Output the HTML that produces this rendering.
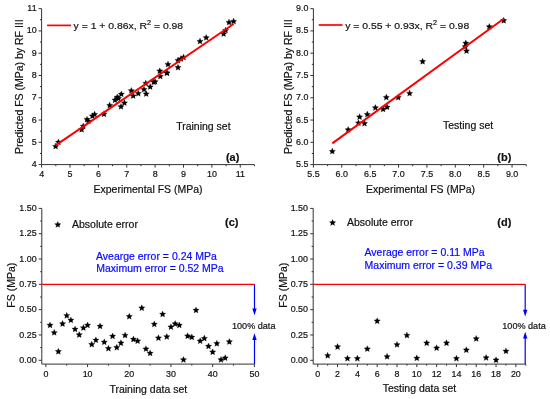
<!DOCTYPE html>
<html><head><meta charset="utf-8"><style>
html,body{margin:0;padding:0;background:#fff;}
body{width:550px;height:399px;overflow:hidden;}
svg{display:block;}
text{font-family:'Liberation Sans',Arial,sans-serif;stroke-width:0.2px;paint-order:stroke;}
</style></head><body>
<svg width="550" height="399" viewBox="0 0 550 399">
<rect width="550" height="399" fill="#fff"/>
<g stroke="#333" stroke-width="1" fill="none">
<line x1="41.6" y1="8.639999999999986" x2="41.6" y2="164.6" />
<line x1="41.6" y1="164.6" x2="254.45" y2="164.6" />
<line x1="41.60" y1="164.6" x2="41.60" y2="167.6" />
<line x1="69.98" y1="164.6" x2="69.98" y2="167.6" />
<line x1="98.36" y1="164.6" x2="98.36" y2="167.6" />
<line x1="126.74" y1="164.6" x2="126.74" y2="167.6" />
<line x1="155.12" y1="164.6" x2="155.12" y2="167.6" />
<line x1="183.50" y1="164.6" x2="183.50" y2="167.6" />
<line x1="211.88" y1="164.6" x2="211.88" y2="167.6" />
<line x1="240.26" y1="164.6" x2="240.26" y2="167.6" />
<line x1="55.79" y1="164.6" x2="55.79" y2="166.2" />
<line x1="84.17" y1="164.6" x2="84.17" y2="166.2" />
<line x1="112.55" y1="164.6" x2="112.55" y2="166.2" />
<line x1="140.93" y1="164.6" x2="140.93" y2="166.2" />
<line x1="169.31" y1="164.6" x2="169.31" y2="166.2" />
<line x1="197.69" y1="164.6" x2="197.69" y2="166.2" />
<line x1="226.07" y1="164.6" x2="226.07" y2="166.2" />
<line x1="254.45" y1="164.6" x2="254.45" y2="166.2" />
<line x1="38.6" y1="164.60" x2="41.6" y2="164.60" />
<line x1="38.6" y1="142.32" x2="41.6" y2="142.32" />
<line x1="38.6" y1="120.04" x2="41.6" y2="120.04" />
<line x1="38.6" y1="97.76" x2="41.6" y2="97.76" />
<line x1="38.6" y1="75.48" x2="41.6" y2="75.48" />
<line x1="38.6" y1="53.20" x2="41.6" y2="53.20" />
<line x1="38.6" y1="30.92" x2="41.6" y2="30.92" />
<line x1="38.6" y1="8.64" x2="41.6" y2="8.64" />
<line x1="40.0" y1="153.46" x2="41.6" y2="153.46" />
<line x1="40.0" y1="131.18" x2="41.6" y2="131.18" />
<line x1="40.0" y1="108.90" x2="41.6" y2="108.90" />
<line x1="40.0" y1="86.62" x2="41.6" y2="86.62" />
<line x1="40.0" y1="64.34" x2="41.6" y2="64.34" />
<line x1="40.0" y1="42.06" x2="41.6" y2="42.06" />
<line x1="40.0" y1="19.78" x2="41.6" y2="19.78" />
<line x1="313.4" y1="8.639999999999986" x2="313.4" y2="164.6" />
<line x1="313.4" y1="164.6" x2="526.25" y2="164.6" />
<line x1="313.40" y1="164.6" x2="313.40" y2="167.6" />
<line x1="341.78" y1="164.6" x2="341.78" y2="167.6" />
<line x1="370.16" y1="164.6" x2="370.16" y2="167.6" />
<line x1="398.54" y1="164.6" x2="398.54" y2="167.6" />
<line x1="426.92" y1="164.6" x2="426.92" y2="167.6" />
<line x1="455.30" y1="164.6" x2="455.30" y2="167.6" />
<line x1="483.68" y1="164.6" x2="483.68" y2="167.6" />
<line x1="512.06" y1="164.6" x2="512.06" y2="167.6" />
<line x1="327.59" y1="164.6" x2="327.59" y2="166.2" />
<line x1="355.97" y1="164.6" x2="355.97" y2="166.2" />
<line x1="384.35" y1="164.6" x2="384.35" y2="166.2" />
<line x1="412.73" y1="164.6" x2="412.73" y2="166.2" />
<line x1="441.11" y1="164.6" x2="441.11" y2="166.2" />
<line x1="469.49" y1="164.6" x2="469.49" y2="166.2" />
<line x1="497.87" y1="164.6" x2="497.87" y2="166.2" />
<line x1="526.25" y1="164.6" x2="526.25" y2="166.2" />
<line x1="310.4" y1="164.60" x2="313.4" y2="164.60" />
<line x1="310.4" y1="142.32" x2="313.4" y2="142.32" />
<line x1="310.4" y1="120.04" x2="313.4" y2="120.04" />
<line x1="310.4" y1="97.76" x2="313.4" y2="97.76" />
<line x1="310.4" y1="75.48" x2="313.4" y2="75.48" />
<line x1="310.4" y1="53.20" x2="313.4" y2="53.20" />
<line x1="310.4" y1="30.92" x2="313.4" y2="30.92" />
<line x1="310.4" y1="8.64" x2="313.4" y2="8.64" />
<line x1="311.79999999999995" y1="153.46" x2="313.4" y2="153.46" />
<line x1="311.79999999999995" y1="131.18" x2="313.4" y2="131.18" />
<line x1="311.79999999999995" y1="108.90" x2="313.4" y2="108.90" />
<line x1="311.79999999999995" y1="86.62" x2="313.4" y2="86.62" />
<line x1="311.79999999999995" y1="64.34" x2="313.4" y2="64.34" />
<line x1="311.79999999999995" y1="42.06" x2="313.4" y2="42.06" />
<line x1="311.79999999999995" y1="19.78" x2="313.4" y2="19.78" />
<line x1="41.8" y1="208.395" x2="41.8" y2="364.1" />
<line x1="41.8" y1="364.1" x2="254.37" y2="364.1" />
<line x1="45.87" y1="364.1" x2="45.87" y2="367.1" />
<line x1="87.57" y1="364.1" x2="87.57" y2="367.1" />
<line x1="129.27" y1="364.1" x2="129.27" y2="367.1" />
<line x1="170.97" y1="364.1" x2="170.97" y2="367.1" />
<line x1="212.67" y1="364.1" x2="212.67" y2="367.1" />
<line x1="254.37" y1="364.1" x2="254.37" y2="367.1" />
<line x1="66.72" y1="364.1" x2="66.72" y2="365.70000000000005" />
<line x1="108.42" y1="364.1" x2="108.42" y2="365.70000000000005" />
<line x1="150.12" y1="364.1" x2="150.12" y2="365.70000000000005" />
<line x1="191.82" y1="364.1" x2="191.82" y2="365.70000000000005" />
<line x1="233.52" y1="364.1" x2="233.52" y2="365.70000000000005" />
<line x1="38.8" y1="360.30" x2="41.8" y2="360.30" />
<line x1="38.8" y1="334.98" x2="41.8" y2="334.98" />
<line x1="38.8" y1="309.67" x2="41.8" y2="309.67" />
<line x1="38.8" y1="284.35" x2="41.8" y2="284.35" />
<line x1="38.8" y1="259.03" x2="41.8" y2="259.03" />
<line x1="38.8" y1="233.71" x2="41.8" y2="233.71" />
<line x1="38.8" y1="208.40" x2="41.8" y2="208.40" />
<line x1="40.199999999999996" y1="347.64" x2="41.8" y2="347.64" />
<line x1="40.199999999999996" y1="322.32" x2="41.8" y2="322.32" />
<line x1="40.199999999999996" y1="297.01" x2="41.8" y2="297.01" />
<line x1="40.199999999999996" y1="271.69" x2="41.8" y2="271.69" />
<line x1="40.199999999999996" y1="246.37" x2="41.8" y2="246.37" />
<line x1="40.199999999999996" y1="221.05" x2="41.8" y2="221.05" />
<line x1="313.2" y1="208.395" x2="313.2" y2="364.1" />
<line x1="313.2" y1="364.1" x2="525.755" y2="364.1" />
<line x1="317.75" y1="364.1" x2="317.75" y2="367.1" />
<line x1="337.56" y1="364.1" x2="337.56" y2="367.1" />
<line x1="357.37" y1="364.1" x2="357.37" y2="367.1" />
<line x1="377.18" y1="364.1" x2="377.18" y2="367.1" />
<line x1="396.99" y1="364.1" x2="396.99" y2="367.1" />
<line x1="416.80" y1="364.1" x2="416.80" y2="367.1" />
<line x1="436.61" y1="364.1" x2="436.61" y2="367.1" />
<line x1="456.42" y1="364.1" x2="456.42" y2="367.1" />
<line x1="476.23" y1="364.1" x2="476.23" y2="367.1" />
<line x1="496.04" y1="364.1" x2="496.04" y2="367.1" />
<line x1="515.85" y1="364.1" x2="515.85" y2="367.1" />
<line x1="327.65" y1="364.1" x2="327.65" y2="365.70000000000005" />
<line x1="347.46" y1="364.1" x2="347.46" y2="365.70000000000005" />
<line x1="367.27" y1="364.1" x2="367.27" y2="365.70000000000005" />
<line x1="387.08" y1="364.1" x2="387.08" y2="365.70000000000005" />
<line x1="406.89" y1="364.1" x2="406.89" y2="365.70000000000005" />
<line x1="426.70" y1="364.1" x2="426.70" y2="365.70000000000005" />
<line x1="446.51" y1="364.1" x2="446.51" y2="365.70000000000005" />
<line x1="466.32" y1="364.1" x2="466.32" y2="365.70000000000005" />
<line x1="486.13" y1="364.1" x2="486.13" y2="365.70000000000005" />
<line x1="505.94" y1="364.1" x2="505.94" y2="365.70000000000005" />
<line x1="525.75" y1="364.1" x2="525.75" y2="365.70000000000005" />
<line x1="310.2" y1="360.30" x2="313.2" y2="360.30" />
<line x1="310.2" y1="334.98" x2="313.2" y2="334.98" />
<line x1="310.2" y1="309.67" x2="313.2" y2="309.67" />
<line x1="310.2" y1="284.35" x2="313.2" y2="284.35" />
<line x1="310.2" y1="259.03" x2="313.2" y2="259.03" />
<line x1="310.2" y1="233.71" x2="313.2" y2="233.71" />
<line x1="310.2" y1="208.40" x2="313.2" y2="208.40" />
<line x1="311.59999999999997" y1="347.64" x2="313.2" y2="347.64" />
<line x1="311.59999999999997" y1="322.32" x2="313.2" y2="322.32" />
<line x1="311.59999999999997" y1="297.01" x2="313.2" y2="297.01" />
<line x1="311.59999999999997" y1="271.69" x2="313.2" y2="271.69" />
<line x1="311.59999999999997" y1="246.37" x2="313.2" y2="246.37" />
<line x1="311.59999999999997" y1="221.05" x2="313.2" y2="221.05" />
</g>
<g fill="#000" stroke="#000" stroke-width="0.25" stroke-linejoin="round">
<polygon points="55.60,143.10 56.51,145.15 58.74,145.38 57.08,146.88 57.54,149.07 55.60,147.95 53.66,149.07 54.12,146.88 52.46,145.38 54.69,145.15"/>
<polygon points="58.50,139.00 59.41,141.05 61.64,141.28 59.98,142.78 60.44,144.97 58.50,143.85 56.56,144.97 57.02,142.78 55.36,141.28 57.59,141.05"/>
<polygon points="81.60,126.30 82.51,128.35 84.74,128.58 83.08,130.08 83.54,132.27 81.60,131.15 79.66,132.27 80.12,130.08 78.46,128.58 80.69,128.35"/>
<polygon points="83.30,123.00 84.21,125.05 86.44,125.28 84.78,126.78 85.24,128.97 83.30,127.85 81.36,128.97 81.82,126.78 80.16,125.28 82.39,125.05"/>
<polygon points="87.00,116.20 87.91,118.25 90.14,118.48 88.48,119.98 88.94,122.17 87.00,121.05 85.06,122.17 85.52,119.98 83.86,118.48 86.09,118.25"/>
<polygon points="88.40,117.90 89.31,119.95 91.54,120.18 89.88,121.68 90.34,123.87 88.40,122.75 86.46,123.87 86.92,121.68 85.26,120.18 87.49,119.95"/>
<polygon points="92.40,112.80 93.31,114.85 95.54,115.08 93.88,116.58 94.34,118.77 92.40,117.65 90.46,118.77 90.92,116.58 89.26,115.08 91.49,114.85"/>
<polygon points="94.60,111.10 95.51,113.15 97.74,113.38 96.08,114.88 96.54,117.07 94.60,115.95 92.66,117.07 93.12,114.88 91.46,113.38 93.69,113.15"/>
<polygon points="104.00,110.80 104.91,112.85 107.14,113.08 105.48,114.58 105.94,116.77 104.00,115.65 102.06,116.77 102.52,114.58 100.86,113.08 103.09,112.85"/>
<polygon points="109.70,102.10 110.61,104.15 112.84,104.38 111.18,105.88 111.64,108.07 109.70,106.95 107.76,108.07 108.22,105.88 106.56,104.38 108.79,104.15"/>
<polygon points="115.00,96.80 115.91,98.85 118.14,99.08 116.48,100.58 116.94,102.77 115.00,101.65 113.06,102.77 113.52,100.58 111.86,99.08 114.09,98.85"/>
<polygon points="117.20,94.00 118.11,96.05 120.34,96.28 118.68,97.78 119.14,99.97 117.20,98.85 115.26,99.97 115.72,97.78 114.06,96.28 116.29,96.05"/>
<polygon points="118.50,95.20 119.41,97.25 121.64,97.48 119.98,98.98 120.44,101.17 118.50,100.05 116.56,101.17 117.02,98.98 115.36,97.48 117.59,97.25"/>
<polygon points="121.30,90.90 122.21,92.95 124.44,93.18 122.78,94.68 123.24,96.87 121.30,95.75 119.36,96.87 119.82,94.68 118.16,93.18 120.39,92.95"/>
<polygon points="124.40,99.60 125.31,101.65 127.54,101.88 125.88,103.38 126.34,105.57 124.40,104.45 122.46,105.57 122.92,103.38 121.26,101.88 123.49,101.65"/>
<polygon points="121.00,103.40 121.91,105.45 124.14,105.68 122.48,107.18 122.94,109.37 121.00,108.25 119.06,109.37 119.52,107.18 117.86,105.68 120.09,105.45"/>
<polygon points="131.30,87.40 132.21,89.45 134.44,89.68 132.78,91.18 133.24,93.37 131.30,92.25 129.36,93.37 129.82,91.18 128.16,89.68 130.39,89.45"/>
<polygon points="133.20,92.60 134.11,94.65 136.34,94.88 134.68,96.38 135.14,98.57 133.20,97.45 131.26,98.57 131.72,96.38 130.06,94.88 132.29,94.65"/>
<polygon points="138.30,90.20 139.21,92.25 141.44,92.48 139.78,93.98 140.24,96.17 138.30,95.05 136.36,96.17 136.82,93.98 135.16,92.48 137.39,92.25"/>
<polygon points="144.00,86.20 144.91,88.25 147.14,88.48 145.48,89.98 145.94,92.17 144.00,91.05 142.06,92.17 142.52,89.98 140.86,88.48 143.09,88.25"/>
<polygon points="146.20,90.60 147.11,92.65 149.34,92.88 147.68,94.38 148.14,96.57 146.20,95.45 144.26,96.57 144.72,94.38 143.06,92.88 145.29,92.65"/>
<polygon points="145.80,80.10 146.71,82.15 148.94,82.38 147.28,83.88 147.74,86.07 145.80,84.95 143.86,86.07 144.32,83.88 142.66,82.38 144.89,82.15"/>
<polygon points="150.20,83.60 151.11,85.65 153.34,85.88 151.68,87.38 152.14,89.57 150.20,88.45 148.26,89.57 148.72,87.38 147.06,85.88 149.29,85.65"/>
<polygon points="153.70,78.80 154.61,80.85 156.84,81.08 155.18,82.58 155.64,84.77 153.70,83.65 151.76,84.77 152.22,82.58 150.56,81.08 152.79,80.85"/>
<polygon points="155.10,78.40 156.01,80.45 158.24,80.68 156.58,82.18 157.04,84.37 155.10,83.25 153.16,84.37 153.62,82.18 151.96,80.68 154.19,80.45"/>
<polygon points="159.80,67.80 160.71,69.85 162.94,70.08 161.28,71.58 161.74,73.77 159.80,72.65 157.86,73.77 158.32,71.58 156.66,70.08 158.89,69.85"/>
<polygon points="160.30,73.10 161.21,75.15 163.44,75.38 161.78,76.88 162.24,79.07 160.30,77.95 158.36,79.07 158.82,76.88 157.16,75.38 159.39,75.15"/>
<polygon points="166.80,69.60 167.71,71.65 169.94,71.88 168.28,73.38 168.74,75.57 166.80,74.45 164.86,75.57 165.32,73.38 163.66,71.88 165.89,71.65"/>
<polygon points="168.00,61.10 168.91,63.15 171.14,63.38 169.48,64.88 169.94,67.07 168.00,65.95 166.06,67.07 166.52,64.88 164.86,63.38 167.09,63.15"/>
<polygon points="167.00,69.70 167.91,71.75 170.14,71.98 168.48,73.48 168.94,75.67 167.00,74.55 165.06,75.67 165.52,73.48 163.86,71.98 166.09,71.75"/>
<polygon points="178.00,64.20 178.91,66.25 181.14,66.48 179.48,67.98 179.94,70.17 178.00,69.05 176.06,70.17 176.52,67.98 174.86,66.48 177.09,66.25"/>
<polygon points="178.00,57.10 178.91,59.15 181.14,59.38 179.48,60.88 179.94,63.07 178.00,61.95 176.06,63.07 176.52,60.88 174.86,59.38 177.09,59.15"/>
<polygon points="181.00,55.60 181.91,57.65 184.14,57.88 182.48,59.38 182.94,61.57 181.00,60.45 179.06,61.57 179.52,59.38 177.86,57.88 180.09,57.65"/>
<polygon points="183.60,54.10 184.51,56.15 186.74,56.38 185.08,57.88 185.54,60.07 183.60,58.95 181.66,60.07 182.12,57.88 180.46,56.38 182.69,56.15"/>
<polygon points="200.00,38.10 200.91,40.15 203.14,40.38 201.48,41.88 201.94,44.07 200.00,42.95 198.06,44.07 198.52,41.88 196.86,40.38 199.09,40.15"/>
<polygon points="206.20,34.40 207.11,36.45 209.34,36.68 207.68,38.18 208.14,40.37 206.20,39.25 204.26,40.37 204.72,38.18 203.06,36.68 205.29,36.45"/>
<polygon points="223.60,30.60 224.51,32.65 226.74,32.88 225.08,34.38 225.54,36.57 223.60,35.45 221.66,36.57 222.12,34.38 220.46,32.88 222.69,32.65"/>
<polygon points="225.60,27.10 226.51,29.15 228.74,29.38 227.08,30.88 227.54,33.07 225.60,31.95 223.66,33.07 224.12,30.88 222.46,29.38 224.69,29.15"/>
<polygon points="229.00,19.10 229.91,21.15 232.14,21.38 230.48,22.88 230.94,25.07 229.00,23.95 227.06,25.07 227.52,22.88 225.86,21.38 228.09,21.15"/>
<polygon points="233.60,18.10 234.51,20.15 236.74,20.38 235.08,21.88 235.54,24.07 233.60,22.95 231.66,24.07 232.12,21.88 230.46,20.38 232.69,20.15"/>
<polygon points="332.30,148.10 333.21,150.15 335.44,150.38 333.78,151.88 334.24,154.07 332.30,152.95 330.36,154.07 330.82,151.88 329.16,150.38 331.39,150.15"/>
<polygon points="348.20,126.50 349.11,128.55 351.34,128.78 349.68,130.28 350.14,132.47 348.20,131.35 346.26,132.47 346.72,130.28 345.06,128.78 347.29,128.55"/>
<polygon points="359.60,113.70 360.51,115.75 362.74,115.98 361.08,117.48 361.54,119.67 359.60,118.55 357.66,119.67 358.12,117.48 356.46,115.98 358.69,115.75"/>
<polygon points="358.50,119.80 359.41,121.85 361.64,122.08 359.98,123.58 360.44,125.77 358.50,124.65 356.56,125.77 357.02,123.58 355.36,122.08 357.59,121.85"/>
<polygon points="364.50,120.20 365.41,122.25 367.64,122.48 365.98,123.98 366.44,126.17 364.50,125.05 362.56,126.17 363.02,123.98 361.36,122.48 363.59,122.25"/>
<polygon points="367.30,111.10 368.21,113.15 370.44,113.38 368.78,114.88 369.24,117.07 367.30,115.95 365.36,117.07 365.82,114.88 364.16,113.38 366.39,113.15"/>
<polygon points="375.40,104.50 376.31,106.55 378.54,106.78 376.88,108.28 377.34,110.47 375.40,109.35 373.46,110.47 373.92,108.28 372.26,106.78 374.49,106.55"/>
<polygon points="383.10,106.00 384.01,108.05 386.24,108.28 384.58,109.78 385.04,111.97 383.10,110.85 381.16,111.97 381.62,109.78 379.96,108.28 382.19,108.05"/>
<polygon points="387.10,103.90 388.01,105.95 390.24,106.18 388.58,107.68 389.04,109.87 387.10,108.75 385.16,109.87 385.62,107.68 383.96,106.18 386.19,105.95"/>
<polygon points="386.30,94.10 387.21,96.15 389.44,96.38 387.78,97.88 388.24,100.07 386.30,98.95 384.36,100.07 384.82,97.88 383.16,96.38 385.39,96.15"/>
<polygon points="398.20,94.20 399.11,96.25 401.34,96.48 399.68,97.98 400.14,100.17 398.20,99.05 396.26,100.17 396.72,97.98 395.06,96.48 397.29,96.25"/>
<polygon points="409.60,90.10 410.51,92.15 412.74,92.38 411.08,93.88 411.54,96.07 409.60,94.95 407.66,96.07 408.12,93.88 406.46,92.38 408.69,92.15"/>
<polygon points="422.60,58.30 423.51,60.35 425.74,60.58 424.08,62.08 424.54,64.27 422.60,63.15 420.66,64.27 421.12,62.08 419.46,60.58 421.69,60.35"/>
<polygon points="465.80,40.00 466.71,42.05 468.94,42.28 467.28,43.78 467.74,45.97 465.80,44.85 463.86,45.97 464.32,43.78 462.66,42.28 464.89,42.05"/>
<polygon points="465.20,43.40 466.11,45.45 468.34,45.68 466.68,47.18 467.14,49.37 465.20,48.25 463.26,49.37 463.72,47.18 462.06,45.68 464.29,45.45"/>
<polygon points="466.50,47.60 467.41,49.65 469.64,49.88 467.98,51.38 468.44,53.57 466.50,52.45 464.56,53.57 465.02,51.38 463.36,49.88 465.59,49.65"/>
<polygon points="489.30,23.50 490.21,25.55 492.44,25.78 490.78,27.28 491.24,29.47 489.30,28.35 487.36,29.47 487.82,27.28 486.16,25.78 488.39,25.55"/>
<polygon points="503.70,17.30 504.61,19.35 506.84,19.58 505.18,21.08 505.64,23.27 503.70,22.15 501.76,23.27 502.22,21.08 500.56,19.58 502.79,19.35"/>
<polygon points="50.04,321.96 50.95,324.00 53.18,324.24 51.52,325.73 51.98,327.93 50.04,326.81 48.10,327.93 48.56,325.73 46.90,324.24 49.13,324.00"/>
<polygon points="54.21,329.35 55.12,331.39 57.35,331.63 55.69,333.13 56.15,335.32 54.21,334.20 52.27,335.32 52.73,333.13 51.07,331.63 53.30,331.39"/>
<polygon points="58.38,348.29 59.29,350.33 61.52,350.57 59.86,352.06 60.32,354.26 58.38,353.14 56.44,354.26 56.90,352.06 55.24,350.57 57.47,350.33"/>
<polygon points="62.55,320.54 63.46,322.58 65.69,322.82 64.03,324.32 64.49,326.51 62.55,325.39 60.61,326.51 61.07,324.32 59.41,322.82 61.64,322.58"/>
<polygon points="66.72,312.33 67.63,314.38 69.86,314.62 68.20,316.11 68.66,318.30 66.72,317.19 64.78,318.30 65.24,316.11 63.58,314.62 65.81,314.38"/>
<polygon points="70.89,316.89 71.80,318.94 74.03,319.17 72.37,320.67 72.83,322.86 70.89,321.74 68.95,322.86 69.41,320.67 67.75,319.17 69.98,318.94"/>
<polygon points="75.06,326.01 75.97,328.05 78.20,328.29 76.54,329.79 77.00,331.98 75.06,330.86 73.12,331.98 73.58,329.79 71.92,328.29 74.15,328.05"/>
<polygon points="79.23,331.58 80.14,333.62 82.37,333.86 80.71,335.36 81.17,337.55 79.23,336.43 77.29,337.55 77.75,335.36 76.09,333.86 78.32,333.62"/>
<polygon points="83.40,324.59 84.31,326.63 86.54,326.87 84.88,328.37 85.34,330.56 83.40,329.44 81.46,330.56 81.92,328.37 80.26,326.87 82.49,326.63"/>
<polygon points="87.57,321.96 88.48,324.00 90.71,324.24 89.05,325.73 89.51,327.93 87.57,326.81 85.63,327.93 86.09,325.73 84.43,324.24 86.66,324.00"/>
<polygon points="91.74,341.20 92.65,343.24 94.88,343.48 93.22,344.98 93.68,347.17 91.74,346.05 89.80,347.17 90.26,344.98 88.60,343.48 90.83,343.24"/>
<polygon points="95.91,336.84 96.82,338.89 99.05,339.12 97.39,340.62 97.85,342.81 95.91,341.69 93.97,342.81 94.43,340.62 92.77,339.12 95.00,338.89"/>
<polygon points="100.08,322.97 100.99,325.01 103.22,325.25 101.56,326.75 102.02,328.94 100.08,327.82 98.14,328.94 98.60,326.75 96.94,325.25 99.17,325.01"/>
<polygon points="104.25,338.87 105.16,340.91 107.39,341.15 105.73,342.65 106.19,344.84 104.25,343.72 102.31,344.84 102.77,342.65 101.11,341.15 103.34,340.91"/>
<polygon points="108.42,345.25 109.33,347.29 111.56,347.53 109.90,349.03 110.36,351.22 108.42,350.10 106.48,351.22 106.94,349.03 105.28,347.53 107.51,347.29"/>
<polygon points="112.59,332.99 113.50,335.04 115.73,335.27 114.07,336.77 114.53,338.96 112.59,337.84 110.65,338.96 111.11,336.77 109.45,335.27 111.68,335.04"/>
<polygon points="116.76,344.23 117.67,346.28 119.90,346.52 118.24,348.01 118.70,350.20 116.76,349.09 114.82,350.20 115.28,348.01 113.62,346.52 115.85,346.28"/>
<polygon points="120.93,339.78 121.84,341.82 124.07,342.06 122.41,343.56 122.87,345.75 120.93,344.63 118.99,345.75 119.45,343.56 117.79,342.06 120.02,341.82"/>
<polygon points="125.10,332.08 126.01,334.13 128.24,334.36 126.58,335.86 127.04,338.05 125.10,336.93 123.16,338.05 123.62,335.86 121.96,334.36 124.19,334.13"/>
<polygon points="129.27,313.25 130.18,315.29 132.41,315.53 130.75,317.03 131.21,319.22 129.27,318.10 127.33,319.22 127.79,317.03 126.13,315.53 128.36,315.29"/>
<polygon points="133.44,336.03 134.35,338.08 136.58,338.31 134.92,339.81 135.38,342.00 133.44,340.88 131.50,342.00 131.96,339.81 130.30,338.31 132.53,338.08"/>
<polygon points="137.61,337.75 138.52,339.80 140.75,340.03 139.09,341.53 139.55,343.72 137.61,342.60 135.67,343.72 136.13,341.53 134.47,340.03 136.70,339.80"/>
<polygon points="141.78,304.74 142.69,306.78 144.92,307.02 143.26,308.52 143.72,310.71 141.78,309.59 139.84,310.71 140.30,308.52 138.64,307.02 140.87,306.78"/>
<polygon points="145.95,345.65 146.86,347.70 149.09,347.93 147.43,349.43 147.89,351.62 145.95,350.50 144.01,351.62 144.47,349.43 142.81,347.93 145.04,347.70"/>
<polygon points="150.12,350.01 151.03,352.05 153.26,352.29 151.60,353.79 152.06,355.98 150.12,354.86 148.18,355.98 148.64,353.79 146.98,352.29 149.21,352.05"/>
<polygon points="154.29,320.94 155.20,322.99 157.43,323.22 155.77,324.72 156.23,326.91 154.29,325.79 152.35,326.91 152.81,324.72 151.15,323.22 153.38,322.99"/>
<polygon points="158.46,334.72 159.37,336.76 161.60,337.00 159.94,338.49 160.40,340.69 158.46,339.57 156.52,340.69 156.98,338.49 155.32,337.00 157.55,336.76"/>
<polygon points="162.63,311.02 163.54,313.06 165.77,313.30 164.11,314.80 164.57,316.99 162.63,315.87 160.69,316.99 161.15,314.80 159.49,313.30 161.72,313.06"/>
<polygon points="166.80,333.50 167.71,335.55 169.94,335.78 168.28,337.28 168.74,339.47 166.80,338.35 164.86,339.47 165.32,337.28 163.66,335.78 165.89,335.55"/>
<polygon points="170.97,323.68 171.88,325.72 174.11,325.96 172.45,327.46 172.91,329.65 170.97,328.53 169.03,329.65 169.49,327.46 167.83,325.96 170.06,325.72"/>
<polygon points="175.14,320.54 176.05,322.58 178.28,322.82 176.62,324.32 177.08,326.51 175.14,325.39 173.20,326.51 173.66,324.32 172.00,322.82 174.23,322.58"/>
<polygon points="179.31,321.96 180.22,324.00 182.45,324.24 180.79,325.73 181.25,327.93 179.31,326.81 177.37,327.93 177.83,325.73 176.17,324.24 178.40,324.00"/>
<polygon points="183.48,356.49 184.39,358.53 186.62,358.77 184.96,360.27 185.42,362.46 183.48,361.34 181.54,362.46 182.00,360.27 180.34,358.77 182.57,358.53"/>
<polygon points="187.65,332.79 188.56,334.84 190.79,335.07 189.13,336.57 189.59,338.76 187.65,337.64 185.71,338.76 186.17,336.57 184.51,335.07 186.74,334.84"/>
<polygon points="191.82,333.91 192.73,335.95 194.96,336.19 193.30,337.68 193.76,339.88 191.82,338.76 189.88,339.88 190.34,337.68 188.68,336.19 190.91,335.95"/>
<polygon points="195.99,306.97 196.90,309.01 199.13,309.25 197.47,310.75 197.93,312.94 195.99,311.82 194.05,312.94 194.51,310.75 192.85,309.25 195.08,309.01"/>
<polygon points="200.16,337.75 201.07,339.80 203.30,340.03 201.64,341.53 202.10,343.72 200.16,342.60 198.22,343.72 198.68,341.53 197.02,340.03 199.25,339.80"/>
<polygon points="204.33,335.12 205.24,337.17 207.47,337.40 205.81,338.90 206.27,341.09 204.33,339.97 202.39,341.09 202.85,338.90 201.19,337.40 203.42,337.17"/>
<polygon points="208.50,343.02 209.41,345.06 211.64,345.30 209.98,346.80 210.44,348.99 208.50,347.87 206.56,348.99 207.02,346.80 205.36,345.30 207.59,345.06"/>
<polygon points="212.67,348.79 213.58,350.84 215.81,351.07 214.15,352.57 214.61,354.76 212.67,353.64 210.73,354.76 211.19,352.57 209.53,351.07 211.76,350.84"/>
<polygon points="216.84,340.29 217.75,342.33 219.98,342.57 218.32,344.06 218.78,346.26 216.84,345.14 214.90,346.26 215.36,344.06 213.70,342.57 215.93,342.33"/>
<polygon points="221.01,356.49 221.92,358.53 224.15,358.77 222.49,360.27 222.95,362.46 221.01,361.34 219.07,362.46 219.53,360.27 217.87,358.77 220.10,358.53"/>
<polygon points="225.18,354.67 226.09,356.71 228.32,356.95 226.66,358.44 227.12,360.64 225.18,359.52 223.24,360.64 223.70,358.44 222.04,356.95 224.27,356.71"/>
<polygon points="229.35,338.56 230.26,340.61 232.49,340.84 230.83,342.34 231.29,344.53 229.35,343.41 227.41,344.53 227.87,342.34 226.21,340.84 228.44,340.61"/>
<polygon points="327.65,352.34 328.57,354.38 330.79,354.62 329.13,356.12 329.59,358.31 327.65,357.19 325.72,358.31 326.18,356.12 324.52,354.62 326.74,354.38"/>
<polygon points="337.56,343.53 338.47,345.57 340.70,345.81 339.04,347.31 339.50,349.50 337.56,348.38 335.62,349.50 336.08,347.31 334.42,345.81 336.65,345.57"/>
<polygon points="347.46,355.27 348.38,357.32 350.60,357.55 348.94,359.05 349.40,361.24 347.46,360.12 345.53,361.24 345.99,359.05 344.33,357.55 346.55,357.32"/>
<polygon points="357.37,355.27 358.28,357.32 360.51,357.55 358.85,359.05 359.31,361.24 357.37,360.12 355.43,361.24 355.89,359.05 354.23,357.55 356.46,357.32"/>
<polygon points="367.27,345.65 368.19,347.70 370.41,347.93 368.75,349.43 369.21,351.62 367.27,350.50 365.34,351.62 365.80,349.43 364.14,347.93 366.36,347.70"/>
<polygon points="377.18,317.80 378.09,319.85 380.32,320.08 378.66,321.58 379.12,323.77 377.18,322.65 375.24,323.77 375.70,321.58 374.04,320.08 376.27,319.85"/>
<polygon points="387.08,353.35 388.00,355.39 390.22,355.63 388.56,357.13 389.02,359.32 387.08,358.20 385.15,359.32 385.61,357.13 383.95,355.63 386.17,355.39"/>
<polygon points="396.99,341.40 397.90,343.44 400.13,343.68 398.47,345.18 398.93,347.37 396.99,346.25 395.05,347.37 395.51,345.18 393.85,343.68 396.08,343.44"/>
<polygon points="406.89,332.08 407.81,334.13 410.03,334.36 408.37,335.86 408.83,338.05 406.89,336.93 404.96,338.05 405.42,335.86 403.76,334.36 405.98,334.13"/>
<polygon points="416.80,354.87 417.71,356.91 419.94,357.15 418.28,358.65 418.74,360.84 416.80,359.72 414.86,360.84 415.32,358.65 413.66,357.15 415.89,356.91"/>
<polygon points="426.70,339.78 427.62,341.82 429.84,342.06 428.18,343.56 428.64,345.75 426.70,344.63 424.77,345.75 425.23,343.56 423.57,342.06 425.79,341.82"/>
<polygon points="436.61,344.74 437.52,346.79 439.75,347.02 438.09,348.52 438.55,350.71 436.61,349.59 434.67,350.71 435.13,348.52 433.47,347.02 435.70,346.79"/>
<polygon points="446.51,339.78 447.43,341.82 449.65,342.06 447.99,343.56 448.45,345.75 446.51,344.63 444.58,345.75 445.04,343.56 443.38,342.06 445.60,341.82"/>
<polygon points="456.42,355.27 457.33,357.32 459.56,357.55 457.90,359.05 458.36,361.24 456.42,360.12 454.48,361.24 454.94,359.05 453.28,357.55 455.51,357.32"/>
<polygon points="466.32,346.77 467.24,348.81 469.46,349.05 467.80,350.55 468.26,352.74 466.32,351.62 464.39,352.74 464.85,350.55 463.19,349.05 465.41,348.81"/>
<polygon points="476.23,335.42 477.14,337.47 479.37,337.70 477.71,339.20 478.17,341.39 476.23,340.28 474.29,341.39 474.75,339.20 473.09,337.70 475.32,337.47"/>
<polygon points="486.13,354.46 487.05,356.51 489.27,356.74 487.61,358.24 488.07,360.43 486.13,359.31 484.20,360.43 484.66,358.24 483.00,356.74 485.22,356.51"/>
<polygon points="496.04,356.79 496.95,358.84 499.18,359.07 497.52,360.57 497.98,362.76 496.04,361.64 494.10,362.76 494.56,360.57 492.90,359.07 495.13,358.84"/>
<polygon points="505.94,347.88 506.86,349.93 509.08,350.16 507.42,351.66 507.88,353.85 505.94,352.73 504.01,353.85 504.47,351.66 502.81,350.16 505.03,349.93"/>
<polygon points="57.80,221.40 58.71,223.45 60.94,223.68 59.28,225.18 59.74,227.37 57.80,226.25 55.86,227.37 56.32,225.18 54.66,223.68 56.89,223.45"/>
<polygon points="332.60,219.50 333.51,221.55 335.74,221.78 334.08,223.28 334.54,225.47 332.60,224.35 330.66,225.47 331.12,223.28 329.46,221.78 331.69,221.55"/>
</g>
<g stroke="#0000ff" stroke-width="1.2" fill="none">
<line x1="254.5" y1="284.3" x2="254.5" y2="310.3" />
<polygon points="252.3,308.5 256.7,308.5 254.5,315.3" stroke="none" fill="#0000ff"/>
<line x1="254.5" y1="338.2" x2="254.5" y2="364.1" />
<polygon points="252.3,340.0 256.7,340.0 254.5,333.2" stroke="none" fill="#0000ff"/>
<line x1="525.2" y1="284.3" x2="525.2" y2="311.5" />
<polygon points="523.0,309.7 527.4000000000001,309.7 525.2,316.5" stroke="none" fill="#0000ff"/>
<line x1="525.2" y1="336.8" x2="525.2" y2="364.1" />
<polygon points="523.0,338.6 527.4000000000001,338.6 525.2,331.8" stroke="none" fill="#0000ff"/>
</g>
<g stroke="#ff0000" stroke-width="2" fill="none">
<line x1="55.6" y1="145.3" x2="233.6" y2="24.0"/>
<line x1="332.3" y1="143.4" x2="503.7" y2="18.7"/>
<line x1="47.1" y1="25.4" x2="71.1" y2="25.4" stroke-width="1.7"/>
<line x1="318.7" y1="25.0" x2="342.6" y2="25.0" stroke-width="1.7"/>
<line x1="41.8" y1="284.3" x2="254.5" y2="284.3" stroke-width="1.3"/>
<line x1="313.2" y1="284.3" x2="525.2" y2="284.3" stroke-width="1.3"/>
</g>
<text transform="translate(36.60 167.10) scale(1 0.96)" text-anchor="end" font-size="8.9" font-weight="normal" fill="#111" stroke="#111" >4</text>
<text transform="translate(41.60 177.10) scale(1 0.96)" text-anchor="middle" font-size="8.9" font-weight="normal" fill="#111" stroke="#111" >4</text>
<text transform="translate(36.60 144.82) scale(1 0.96)" text-anchor="end" font-size="8.9" font-weight="normal" fill="#111" stroke="#111" >5</text>
<text transform="translate(69.98 177.10) scale(1 0.96)" text-anchor="middle" font-size="8.9" font-weight="normal" fill="#111" stroke="#111" >5</text>
<text transform="translate(36.60 122.54) scale(1 0.96)" text-anchor="end" font-size="8.9" font-weight="normal" fill="#111" stroke="#111" >6</text>
<text transform="translate(98.36 177.10) scale(1 0.96)" text-anchor="middle" font-size="8.9" font-weight="normal" fill="#111" stroke="#111" >6</text>
<text transform="translate(36.60 100.26) scale(1 0.96)" text-anchor="end" font-size="8.9" font-weight="normal" fill="#111" stroke="#111" >7</text>
<text transform="translate(126.74 177.10) scale(1 0.96)" text-anchor="middle" font-size="8.9" font-weight="normal" fill="#111" stroke="#111" >7</text>
<text transform="translate(36.60 77.98) scale(1 0.96)" text-anchor="end" font-size="8.9" font-weight="normal" fill="#111" stroke="#111" >8</text>
<text transform="translate(155.12 177.10) scale(1 0.96)" text-anchor="middle" font-size="8.9" font-weight="normal" fill="#111" stroke="#111" >8</text>
<text transform="translate(36.60 55.70) scale(1 0.96)" text-anchor="end" font-size="8.9" font-weight="normal" fill="#111" stroke="#111" >9</text>
<text transform="translate(183.50 177.10) scale(1 0.96)" text-anchor="middle" font-size="8.9" font-weight="normal" fill="#111" stroke="#111" >9</text>
<text transform="translate(36.60 33.42) scale(1 0.96)" text-anchor="end" font-size="8.9" font-weight="normal" fill="#111" stroke="#111" >10</text>
<text transform="translate(211.88 177.10) scale(1 0.96)" text-anchor="middle" font-size="8.9" font-weight="normal" fill="#111" stroke="#111" >10</text>
<text transform="translate(36.60 11.14) scale(1 0.96)" text-anchor="end" font-size="8.9" font-weight="normal" fill="#111" stroke="#111" >11</text>
<text transform="translate(240.26 177.10) scale(1 0.96)" text-anchor="middle" font-size="8.9" font-weight="normal" fill="#111" stroke="#111" >11</text>
<text transform="translate(308.40 167.10) scale(1 0.96)" text-anchor="end" font-size="8.9" font-weight="normal" fill="#111" stroke="#111" >5.5</text>
<text transform="translate(313.40 177.10) scale(1 0.96)" text-anchor="middle" font-size="8.9" font-weight="normal" fill="#111" stroke="#111" >5.5</text>
<text transform="translate(308.40 144.82) scale(1 0.96)" text-anchor="end" font-size="8.9" font-weight="normal" fill="#111" stroke="#111" >6.0</text>
<text transform="translate(341.78 177.10) scale(1 0.96)" text-anchor="middle" font-size="8.9" font-weight="normal" fill="#111" stroke="#111" >6.0</text>
<text transform="translate(308.40 122.54) scale(1 0.96)" text-anchor="end" font-size="8.9" font-weight="normal" fill="#111" stroke="#111" >6.5</text>
<text transform="translate(370.16 177.10) scale(1 0.96)" text-anchor="middle" font-size="8.9" font-weight="normal" fill="#111" stroke="#111" >6.5</text>
<text transform="translate(308.40 100.26) scale(1 0.96)" text-anchor="end" font-size="8.9" font-weight="normal" fill="#111" stroke="#111" >7.0</text>
<text transform="translate(398.54 177.10) scale(1 0.96)" text-anchor="middle" font-size="8.9" font-weight="normal" fill="#111" stroke="#111" >7.0</text>
<text transform="translate(308.40 77.98) scale(1 0.96)" text-anchor="end" font-size="8.9" font-weight="normal" fill="#111" stroke="#111" >7.5</text>
<text transform="translate(426.92 177.10) scale(1 0.96)" text-anchor="middle" font-size="8.9" font-weight="normal" fill="#111" stroke="#111" >7.5</text>
<text transform="translate(308.40 55.70) scale(1 0.96)" text-anchor="end" font-size="8.9" font-weight="normal" fill="#111" stroke="#111" >8.0</text>
<text transform="translate(455.30 177.10) scale(1 0.96)" text-anchor="middle" font-size="8.9" font-weight="normal" fill="#111" stroke="#111" >8.0</text>
<text transform="translate(308.40 33.42) scale(1 0.96)" text-anchor="end" font-size="8.9" font-weight="normal" fill="#111" stroke="#111" >8.5</text>
<text transform="translate(483.68 177.10) scale(1 0.96)" text-anchor="middle" font-size="8.9" font-weight="normal" fill="#111" stroke="#111" >8.5</text>
<text transform="translate(308.40 11.14) scale(1 0.96)" text-anchor="end" font-size="8.9" font-weight="normal" fill="#111" stroke="#111" >9.0</text>
<text transform="translate(512.06 177.10) scale(1 0.96)" text-anchor="middle" font-size="8.9" font-weight="normal" fill="#111" stroke="#111" >9.0</text>
<text transform="translate(36.60 362.90) scale(1 0.96)" text-anchor="end" font-size="8.9" font-weight="normal" fill="#111" stroke="#111" >0.00</text>
<text transform="translate(308.00 362.90) scale(1 0.96)" text-anchor="end" font-size="8.9" font-weight="normal" fill="#111" stroke="#111" >0.00</text>
<text transform="translate(36.60 337.58) scale(1 0.96)" text-anchor="end" font-size="8.9" font-weight="normal" fill="#111" stroke="#111" >0.25</text>
<text transform="translate(308.00 337.58) scale(1 0.96)" text-anchor="end" font-size="8.9" font-weight="normal" fill="#111" stroke="#111" >0.25</text>
<text transform="translate(36.60 312.27) scale(1 0.96)" text-anchor="end" font-size="8.9" font-weight="normal" fill="#111" stroke="#111" >0.50</text>
<text transform="translate(308.00 312.27) scale(1 0.96)" text-anchor="end" font-size="8.9" font-weight="normal" fill="#111" stroke="#111" >0.50</text>
<text transform="translate(36.60 286.95) scale(1 0.96)" text-anchor="end" font-size="8.9" font-weight="normal" fill="#111" stroke="#111" >0.75</text>
<text transform="translate(308.00 286.95) scale(1 0.96)" text-anchor="end" font-size="8.9" font-weight="normal" fill="#111" stroke="#111" >0.75</text>
<text transform="translate(36.60 261.63) scale(1 0.96)" text-anchor="end" font-size="8.9" font-weight="normal" fill="#111" stroke="#111" >1.00</text>
<text transform="translate(308.00 261.63) scale(1 0.96)" text-anchor="end" font-size="8.9" font-weight="normal" fill="#111" stroke="#111" >1.00</text>
<text transform="translate(36.60 236.31) scale(1 0.96)" text-anchor="end" font-size="8.9" font-weight="normal" fill="#111" stroke="#111" >1.25</text>
<text transform="translate(308.00 236.31) scale(1 0.96)" text-anchor="end" font-size="8.9" font-weight="normal" fill="#111" stroke="#111" >1.25</text>
<text transform="translate(36.60 211.00) scale(1 0.96)" text-anchor="end" font-size="8.9" font-weight="normal" fill="#111" stroke="#111" >1.50</text>
<text transform="translate(308.00 211.00) scale(1 0.96)" text-anchor="end" font-size="8.9" font-weight="normal" fill="#111" stroke="#111" >1.50</text>
<text transform="translate(45.87 377.10) scale(1 0.96)" text-anchor="middle" font-size="8.9" font-weight="normal" fill="#111" stroke="#111" >0</text>
<text transform="translate(87.57 377.10) scale(1 0.96)" text-anchor="middle" font-size="8.9" font-weight="normal" fill="#111" stroke="#111" >10</text>
<text transform="translate(129.27 377.10) scale(1 0.96)" text-anchor="middle" font-size="8.9" font-weight="normal" fill="#111" stroke="#111" >20</text>
<text transform="translate(170.97 377.10) scale(1 0.96)" text-anchor="middle" font-size="8.9" font-weight="normal" fill="#111" stroke="#111" >30</text>
<text transform="translate(212.67 377.10) scale(1 0.96)" text-anchor="middle" font-size="8.9" font-weight="normal" fill="#111" stroke="#111" >40</text>
<text transform="translate(254.37 377.10) scale(1 0.96)" text-anchor="middle" font-size="8.9" font-weight="normal" fill="#111" stroke="#111" >50</text>
<text transform="translate(317.75 377.10) scale(1 0.96)" text-anchor="middle" font-size="8.9" font-weight="normal" fill="#111" stroke="#111" >0</text>
<text transform="translate(337.56 377.10) scale(1 0.96)" text-anchor="middle" font-size="8.9" font-weight="normal" fill="#111" stroke="#111" >2</text>
<text transform="translate(357.37 377.10) scale(1 0.96)" text-anchor="middle" font-size="8.9" font-weight="normal" fill="#111" stroke="#111" >4</text>
<text transform="translate(377.18 377.10) scale(1 0.96)" text-anchor="middle" font-size="8.9" font-weight="normal" fill="#111" stroke="#111" >6</text>
<text transform="translate(396.99 377.10) scale(1 0.96)" text-anchor="middle" font-size="8.9" font-weight="normal" fill="#111" stroke="#111" >8</text>
<text transform="translate(416.80 377.10) scale(1 0.96)" text-anchor="middle" font-size="8.9" font-weight="normal" fill="#111" stroke="#111" >10</text>
<text transform="translate(436.61 377.10) scale(1 0.96)" text-anchor="middle" font-size="8.9" font-weight="normal" fill="#111" stroke="#111" >12</text>
<text transform="translate(456.42 377.10) scale(1 0.96)" text-anchor="middle" font-size="8.9" font-weight="normal" fill="#111" stroke="#111" >14</text>
<text transform="translate(476.23 377.10) scale(1 0.96)" text-anchor="middle" font-size="8.9" font-weight="normal" fill="#111" stroke="#111" >16</text>
<text transform="translate(496.04 377.10) scale(1 0.96)" text-anchor="middle" font-size="8.9" font-weight="normal" fill="#111" stroke="#111" >18</text>
<text transform="translate(515.85 377.10) scale(1 0.96)" text-anchor="middle" font-size="8.9" font-weight="normal" fill="#111" stroke="#111" >20</text>
<text transform="translate(148.00 192.80) scale(1 0.96)" text-anchor="middle" font-size="10.5" font-weight="normal" fill="#111" stroke="#111" >Experimental FS (MPa)</text>
<text transform="translate(420.50 192.80) scale(1 0.96)" text-anchor="middle" font-size="10.5" font-weight="normal" fill="#111" stroke="#111" >Experimental FS (MPa)</text>
<text transform="translate(22.80 86.70) rotate(-90) scale(1 0.96)" text-anchor="middle" font-size="10.5" font-weight="normal" fill="#111" stroke="#111" >Predicted FS (MPa) by RF III</text>
<text transform="translate(291.50 86.70) rotate(-90) scale(1 0.96)" text-anchor="middle" font-size="10.5" font-weight="normal" fill="#111" stroke="#111" >Predicted FS (MPa) by RF III</text>
<text transform="translate(148.30 392.50) scale(1 0.96)" text-anchor="middle" font-size="10.5" font-weight="normal" fill="#111" stroke="#111" >Training data set</text>
<text transform="translate(419.50 392.30) scale(1 0.96)" text-anchor="middle" font-size="10.5" font-weight="normal" fill="#111" stroke="#111" >Testing data set</text>
<text transform="translate(15.00 285.20) rotate(-90) scale(1 0.96)" text-anchor="middle" font-size="10.5" font-weight="normal" fill="#111" stroke="#111" >FS (MPa)</text>
<text transform="translate(287.00 285.20) rotate(-90) scale(1 0.96)" text-anchor="middle" font-size="10.5" font-weight="normal" fill="#111" stroke="#111" >FS (MPa)</text>
<text transform="translate(225.90 160.80) scale(1 0.96)" text-anchor="start" font-size="11" font-weight="bold" fill="#111" stroke="#111" >(a)</text>
<text transform="translate(497.30 161.00) scale(1 0.96)" text-anchor="start" font-size="11" font-weight="bold" fill="#111" stroke="#111" >(b)</text>
<text transform="translate(225.10 225.50) scale(1 0.96)" text-anchor="start" font-size="11" font-weight="bold" fill="#111" stroke="#111" >(c)</text>
<text transform="translate(497.30 225.70) scale(1 0.96)" text-anchor="start" font-size="11" font-weight="bold" fill="#111" stroke="#111" >(d)</text>
<text transform="translate(176.20 129.60) scale(1 0.96)" text-anchor="start" font-size="10.5" font-weight="normal" fill="#111" stroke="#111" >Training set</text>
<text transform="translate(443.00 129.00) scale(1 0.96)" text-anchor="start" font-size="10.5" font-weight="normal" fill="#111" stroke="#111" >Testing set</text>
<text transform="translate(73.60 29.40) scale(1 0.96)" text-anchor="start" font-size="10.4" font-weight="normal" fill="#111" stroke="#111" >y = 1 + 0.86x, R<tspan dy="-4.3" font-size="7.3">2</tspan><tspan dy="4.3"> = 0.98</tspan></text>
<text transform="translate(345.20 28.90) scale(1 0.96)" text-anchor="start" font-size="10.4" font-weight="normal" fill="#111" stroke="#111" >y = 0.55 + 0.93x, R<tspan dy="-4.3" font-size="7.3">2</tspan><tspan dy="4.3"> = 0.98</tspan></text>
<text transform="translate(72.00 227.50) scale(1 0.96)" text-anchor="start" font-size="10.5" font-weight="normal" fill="#111" stroke="#111" >Absolute error</text>
<text transform="translate(347.00 225.50) scale(1 0.96)" text-anchor="start" font-size="10.5" font-weight="normal" fill="#111" stroke="#111" >Absolute error</text>
<text transform="translate(96.00 259.50) scale(1 0.96)" text-anchor="start" font-size="10.5" font-weight="normal" fill="#0808ff" stroke="#0808ff" >Avearge error = 0.24 MPa</text>
<text transform="translate(96.30 272.30) scale(1 0.96)" text-anchor="start" font-size="10.5" font-weight="normal" fill="#0808ff" stroke="#0808ff" >Maximum error = 0.52 MPa</text>
<text transform="translate(364.50 256.40) scale(1 0.96)" text-anchor="start" font-size="10.5" font-weight="normal" fill="#0808ff" stroke="#0808ff" >Average error = 0.11 MPa</text>
<text transform="translate(364.60 269.00) scale(1 0.96)" text-anchor="start" font-size="10.5" font-weight="normal" fill="#0808ff" stroke="#0808ff" >Maximum error = 0.39 MPa</text>
<text transform="translate(232.00 328.60) scale(1 0.96)" text-anchor="start" font-size="9.1" font-weight="normal" fill="#111" stroke="#111" >100% data</text>
<text transform="translate(502.30 328.80) scale(1 0.96)" text-anchor="start" font-size="9.1" font-weight="normal" fill="#111" stroke="#111" >100% data</text>
</svg>
</body></html>
